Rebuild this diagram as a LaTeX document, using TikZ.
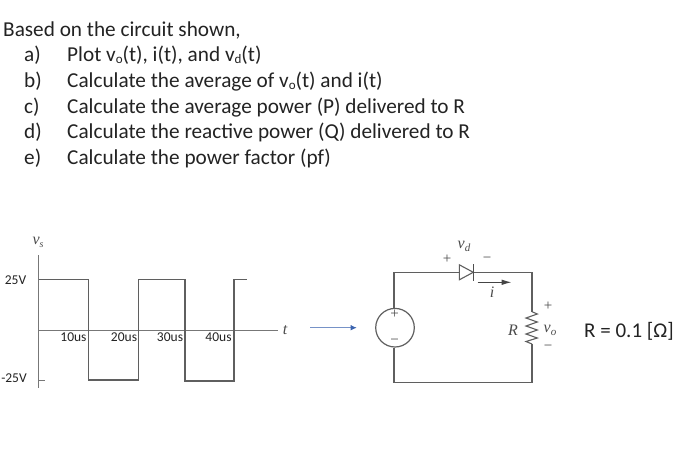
\documentclass[tikz,border=0pt]{standalone}
\usepackage{fontspec}
\setmainfont{Carlito}
\newfontfamily\serifit[Scale=1]{Liberation Serif}
\usetikzlibrary{arrows.meta,decorations.pathmorphing}
\definecolor{wire}{RGB}{95,95,95}
\definecolor{ink}{RGB}{35,35,35}
\definecolor{lbl}{RGB}{75,75,75}
\definecolor{bluearrow}{RGB}{60,100,175}
\tikzset{
  x=1pt,y=-1pt,
  body/.style={anchor=base west,inner sep=0pt,text=ink,font=\fontsize{21.25}{25}\selectfont},
  small/.style={inner sep=0pt,text=ink,font=\fontsize{13.5}{16}\selectfont},
  sym/.style={inner sep=0pt,text=lbl,font=\fontsize{16}{18}\serifit\itshape},
  sign/.style={inner sep=0pt,text=lbl,font=\fontsize{15}{17}\serifit},
  wireline/.style={draw=wire,line width=1.2pt},
  axisline/.style={draw=wire!85,line width=1pt},
}
\newcommand{\sub}[1]{\raisebox{-0.25ex}{\fontsize{13}{13}\selectfont #1}}
\begin{document}
\begin{tikzpicture}
\useasboundingbox (0,0) rectangle (700,472);
\fill[white] (0,0) rectangle (700,472);
% question text
\node[body] (q0) at (3,36) {Based on the circuit shown,};
\node[body] (qa) at (24,61) {a)};
\node[body] (qat) at (67,61) {Plot v\sub{o}(t), i(t), and v\sub{d}(t)};
\node[body] (qb) at (24,87) {b)};
\node[body] (qbt) at (67,87) {Calculate the average of v\sub{o}(t) and i(t)};
\node[body] (qc) at (24,113) {c)};
\node[body] (qct) at (67,113) {Calculate the average power (P) delivered to R};
\node[body] (qd) at (24,138) {d)};
\node[body] (qdt) at (67,138) {Calculate the reactive power (Q) delivered to R};
\node[body] (qe) at (24,164) {e)};
\node[body] (qet) at (67,164) {Calculate the power factor (pf)};
% waveform
\coordinate (ytop) at (38.7,255);
\coordinate (ybot) at (38.7,388);
\coordinate (t0) at (38.7,330);
\coordinate (tend) at (277.7,330);
\coordinate (tickA) at (38.7,380.5);
\coordinate (tickB) at (45,380.5);
\draw[axisline] (ytop) -- (ybot);
\draw[axisline] (t0) -- (tend);
\draw[axisline] (tickA) -- (tickB);
\draw[wireline,line width=1.4pt] (38.7,279.3) -- (88.3,279.3) -- (88.3,380) -- (138.3,380) -- (138.3,279.3) -- (185,279.3) -- (185,381) -- (234,381) -- (234,279.3) -- (246.7,279.3);
\node[sym] (vs) at (38,242) {v\raisebox{-0.4ex}{\fontsize{10}{10}\selectfont s}};
\node[sym] (t) at (285,330) {t};
\node[small] (p25) at (15.5,280) {25V};
\node[small] (m25) at (14,378) {-25V};
\node[small] (l10) at (73.5,337) {10us};
\node[small] (l20) at (124,337) {20us};
\node[small] (l30) at (170,337) {30us};
\node[small] (l40) at (218.5,337) {40us};
% blue arrow
\coordinate (ba) at (310,327.7);
\coordinate (bb) at (356.7,327.7);
\draw[draw=bluearrow!70,line width=0.8pt,-{Latex[length=6pt,width=5.5pt,color=bluearrow]}] (ba) -- (bb);
% circuit
\node[circle,draw=wire,line width=1.2pt,minimum size=38.6pt,inner sep=0pt] (src) at (395,327.7) {};
\coordinate (tl) at (394,272.3);
\coordinate (tr) at (532,272.3);
\coordinate (bl) at (394,382.3);
\coordinate (br) at (532,382.3);
\coordinate (dA) at (459.3,272.3);
\coordinate (dK) at (473.3,272.3);
\coordinate (rT) at (532,311.7);
\coordinate (rB) at (532,344);
\draw[wireline] (src.north -| tl) -- (tl) -- (dA);
\draw[wireline] (dK) -- (tr) -- (rT);
\draw[wireline] (rB) -- (br) -- (bl) -- (src.south -| bl);
\draw[draw=wire,line width=1.1pt,line join=miter] (459.3,264.8) -- (473.3,272.3) -- (459.3,279.8) -- cycle;
\draw[draw=ink!80,line width=1.2pt] (473.6,264) -- (473.6,280.5);
\draw[draw=wire,line width=1.1pt] (rT) -- (537.3,314) -- (526,318) -- (537.3,322) -- (526,326) -- (537.3,330) -- (526,334) -- (537.3,338) -- (526,341.5) -- (rB);
\coordinate (ia) at (477.7,282.3);
\coordinate (ib) at (511.7,282.3);
\draw[draw=ink!85,line width=1.1pt,-{Latex[length=10pt,width=5.5pt]}] (ia) -- (ib);
\node[sign] (sp) at (394.5,314) {+};
\node[sign] (sm) at (394.5,342) {\textminus};
\node[sym] (vd) at (464,246) {v\raisebox{-0.4ex}{\fontsize{11}{11}\selectfont d}};
\node[sign] (dp) at (447,259.5) {+};
\node[sign] (dm) at (487,260) {\textminus};
\node[sym] (i) at (492,292) {i};
\node[sign] (op) at (548,306.5) {+};
\node[sign] (om) at (548,348) {\textminus};
\node[sym] (R) at (513,330) {R};
\node[sym] (vo) at (550,330) {v\raisebox{-0.4ex}{\fontsize{11}{11}\selectfont o}};
\node[inner sep=0pt,text=ink,font=\fontsize{21}{25}\selectfont,anchor=base west] (Rv) at (584,337.5) {R = 0.1 [Ω]};
\end{tikzpicture}
\end{document}
